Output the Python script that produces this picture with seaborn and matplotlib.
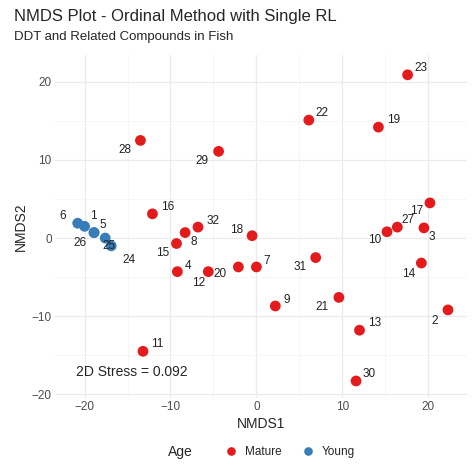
import matplotlib
matplotlib.use("Agg")
import matplotlib.pyplot as plt
import seaborn as sns
import pandas as pd

labels = ["1", "2", "3", "4", "5", "6", "7", "8", "9", "10", "11", "12", "13", "14", "15", "16",
          "17", "18", "19", "20", "21", "22", "23", "24", "25", "26", "27", "28", "29", "30", "31", "32"]
nmds1 = [-20.0, 22.3, 19.5, -9.2, -18.9, -20.8, 0.0, -8.3, 2.2, 15.2, -13.2, -5.6, 12.0, 19.2, -9.3, -12.1,
         20.2, -0.5, 14.2, -2.1, 9.6, 6.1, 17.6, -16.9, -17.6, -18.9, 16.4, -13.5, -4.4, 11.6, 6.9, -6.8]
nmds2 = [1.5, -9.2, 1.3, -4.3, 0.7, 1.9, -3.7, 0.7, -8.7, 0.8, -14.5, -4.3, -11.8, -3.2, -0.7, 3.1,
         4.5, 0.3, 14.2, -3.7, -7.6, 15.1, 20.9, -1.0, 0.0, 0.7, 1.4, 12.5, 11.1, -18.3, -2.5, 1.4]
age = ["Young" if l in ("1", "5", "6", "24", "25", "26") else "Mature" for l in labels]

df = pd.DataFrame({"NMDS1": nmds1, "NMDS2": nmds2, "Age": age, "label": labels})

# label offsets (points), roughly mimicking ggrepel
offs = {"1": (4, 5), "2": (-12, -10), "3": (3, -9), "4": (5, 2), "5": (4, 3), "6": (-13, 3),
        "7": (5, 2), "8": (4, -9), "9": (6, 2), "10": (-14, -8), "11": (6, 3), "12": (-12, -10),
        "13": (6, 3), "14": (-14, -10), "15": (-15, -9), "16": (6, 3), "17": (-14, -8), "18": (-16, 2),
        "19": (6, 3), "20": (-18, -7), "21": (-17, -9), "22": (5, 3), "23": (5, 3), "24": (8, -12),
        "25": (-2, -8), "26": (-15, -10), "27": (3, 3), "28": (-16, -9), "29": (-17, -9), "30": (5, 3),
        "31": (-16, -9), "32": (6, 2)}

sns.set_theme(style="whitegrid")
plt.rcParams['font.family'] = ['Liberation Sans', 'DejaVu Sans']
fig, ax = plt.subplots(figsize=(4.74, 4.74), dpi=100)
sns.scatterplot(data=df, x="NMDS1", y="NMDS2", hue="Age", hue_order=["Mature", "Young"],
                palette={"Mature": "#E41A1C", "Young": "#377EB8"}, s=60, edgecolor="none", ax=ax)
for _, r in df.iterrows():
    dx, dy = offs[r.label]
    ax.annotate(r.label, (r.NMDS1, r.NMDS2), xytext=(dx, dy), textcoords="offset points",
                fontsize=8.5, color="#222222")
ax.text(-21.0, -17.6, "2D Stress = 0.092", fontsize=10)
ax.set_xlim(-23.5, 24.5)
ax.set_ylim(-20.5, 23.5)
ax.set_xticks([-20, -10, 0, 10, 20])
ax.set_yticks([-20, -10, 0, 10, 20])
ax.set_xticks([-15, -5, 5, 15], minor=True)
ax.set_yticks([-15, -5, 5, 15], minor=True)
ax.grid(which="major", color="#EBEBEB", linewidth=0.9)
ax.grid(which="minor", color="#F3F3F3", linewidth=0.5)
for s in ax.spines.values():
    s.set_visible(False)
ax.tick_params(labelsize=8.5, colors="#4D4D4D", length=0, pad=2)
ax.set_xlabel("NMDS1", fontsize=10, labelpad=3)
ax.set_ylabel("NMDS2", fontsize=10, labelpad=3)
ax.legend_.remove()
h, l = ax.get_legend_handles_labels()
fig.legend(h, l, loc="center left", ncol=2, frameon=False, fontsize=8.5,
           bbox_to_anchor=(0.44, 0.047), markerscale=0.8, handletextpad=0.2, columnspacing=1.2)
fig.text(0.355, 0.047, "Age", fontsize=10, va="center")
fig.text(0.03, 0.955, "NMDS Plot - Ordinal Method with Single RL", fontsize=12)
fig.text(0.03, 0.915, "DDT and Related Compounds in Fish", fontsize=9.5)
fig.subplots_adjust(left=0.115, right=0.985, top=0.885, bottom=0.16)
fig.savefig("out.png", dpi=100)
